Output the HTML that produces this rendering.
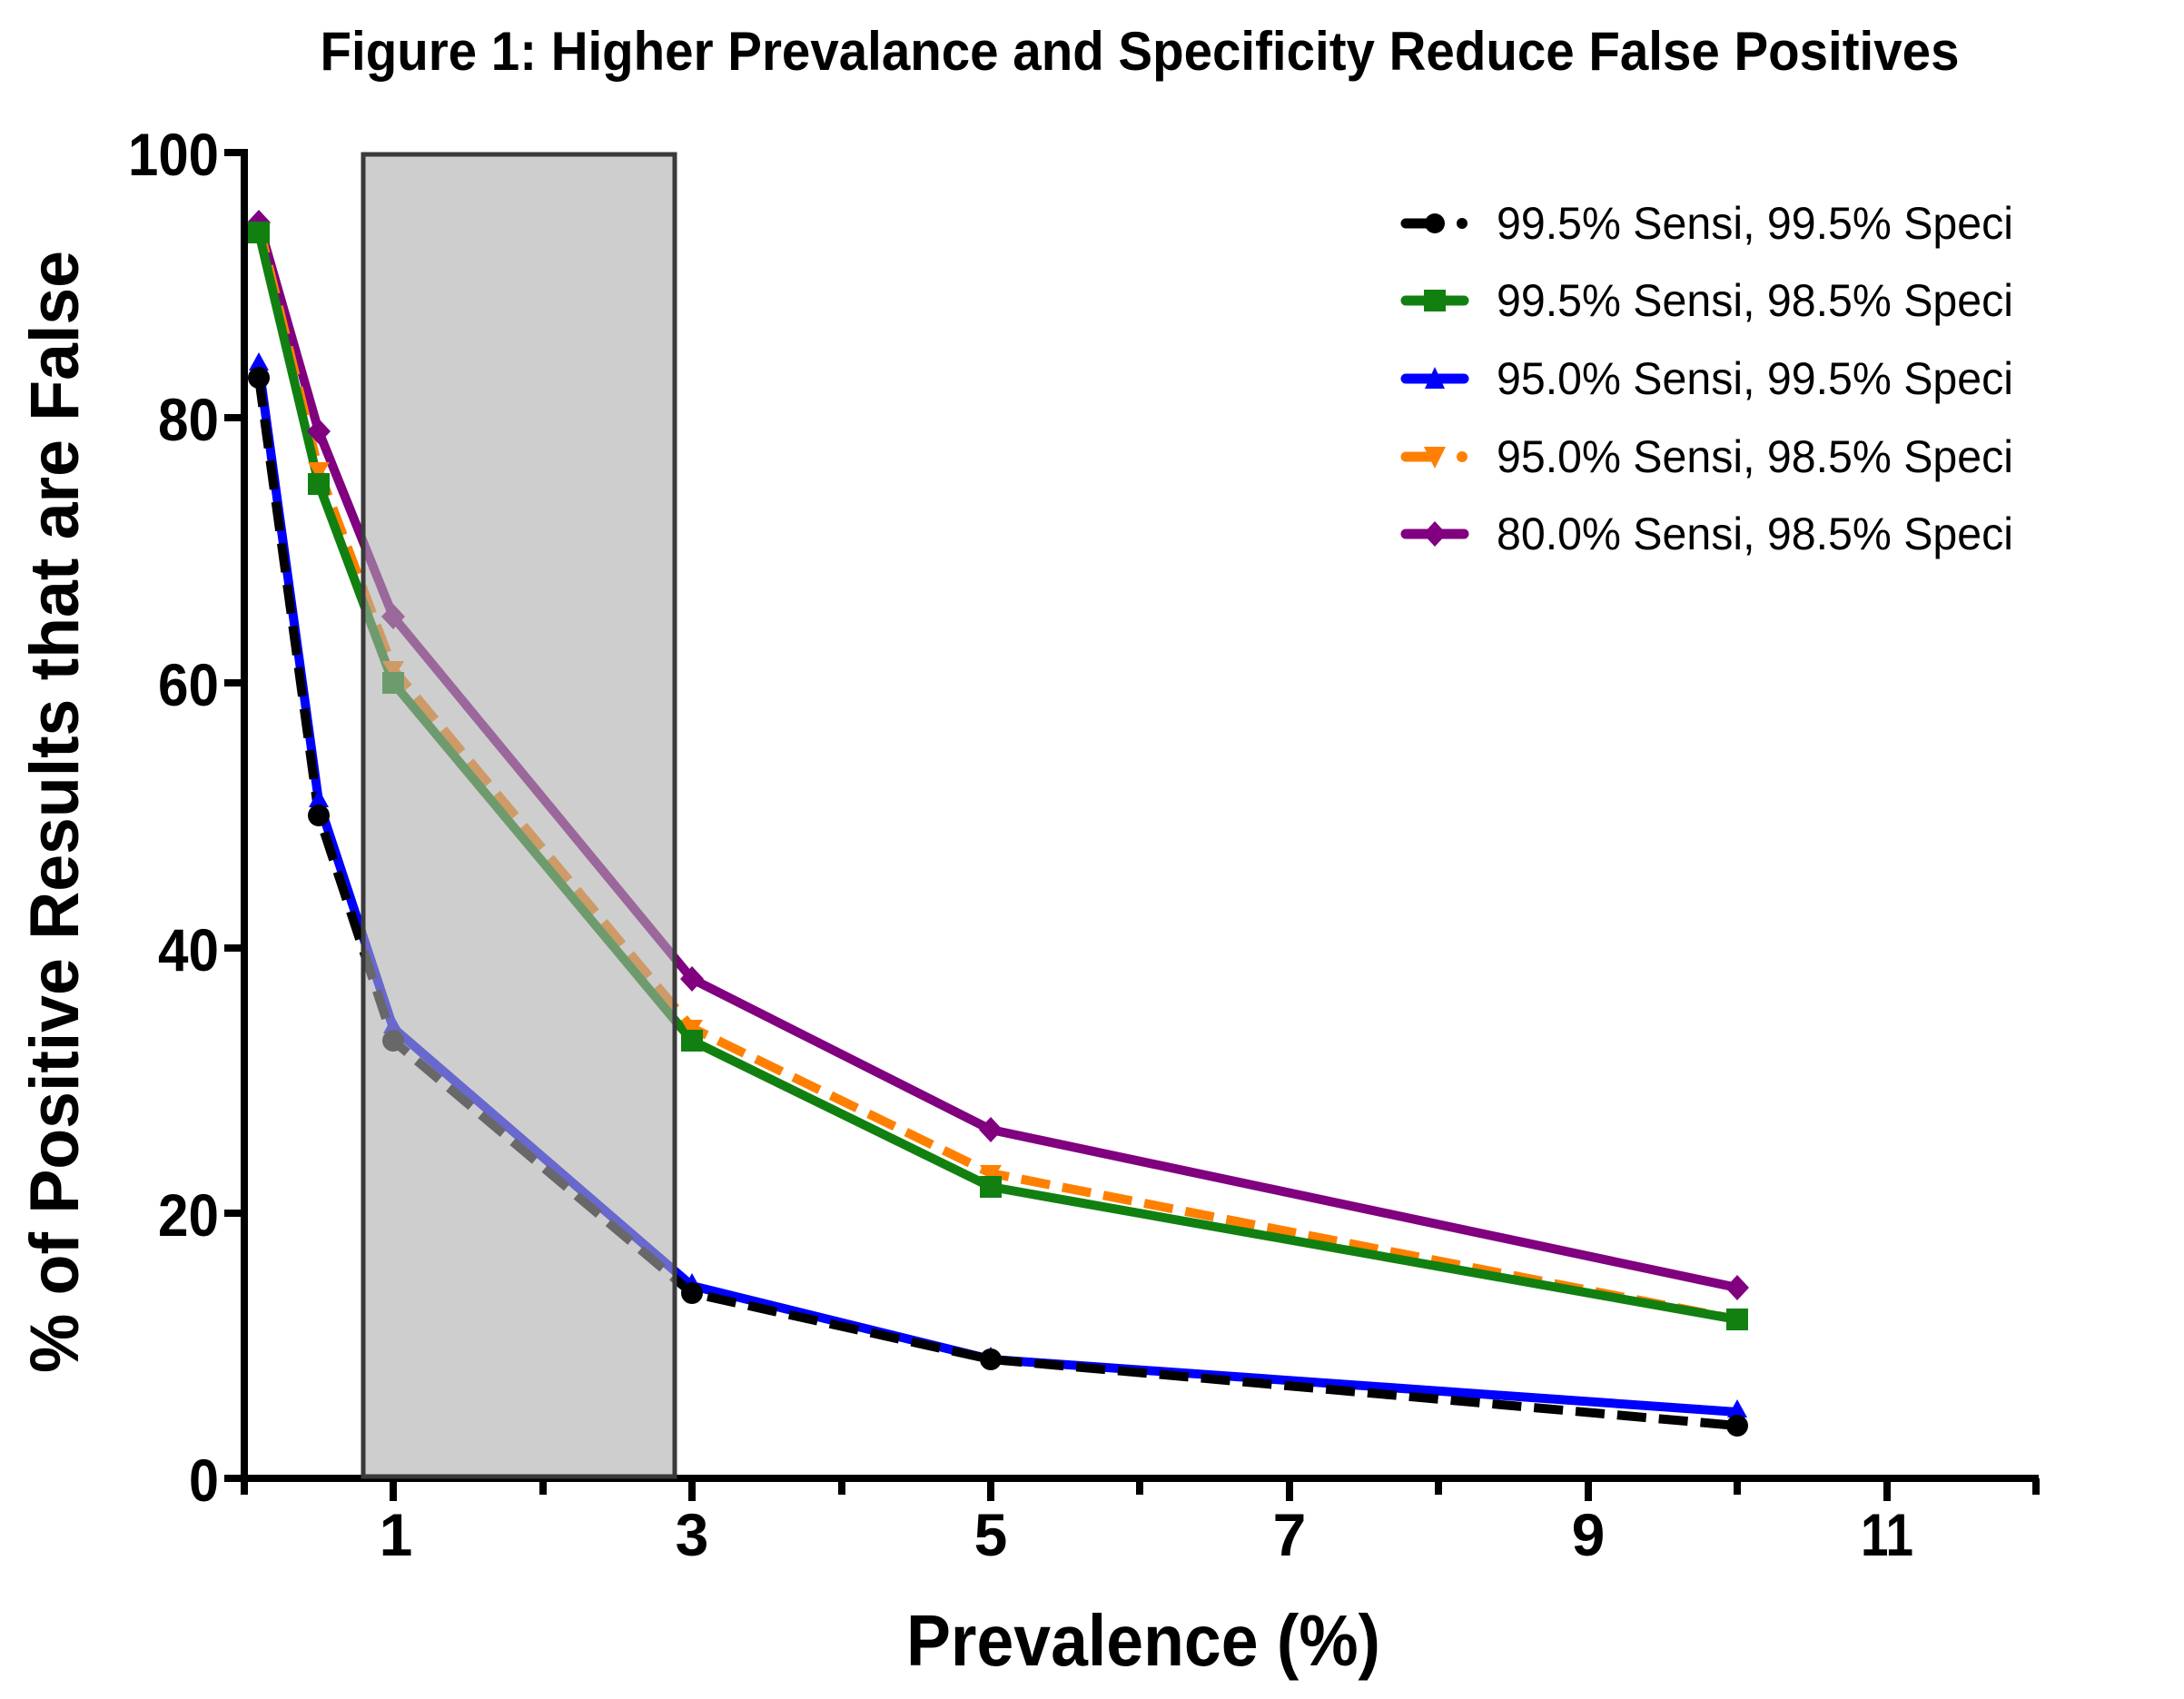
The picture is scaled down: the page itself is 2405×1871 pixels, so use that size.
<!DOCTYPE html>
<html><head><meta charset="utf-8"><style>html,body{margin:0;padding:0;background:#fff}svg{display:block}</style></head>
<body>
<svg width="2405" height="1871" viewBox="0 0 2405 1871" xmlns="http://www.w3.org/2000/svg" font-family="Liberation Sans, sans-serif" font-weight="bold">
<text x="1255" y="77" font-size="60" text-anchor="middle" textLength="1805" lengthAdjust="spacingAndGlyphs">Figure 1: Higher Prevalance and Specificity Reduce False Positives</text>
<!-- axes -->
<g stroke="#000" stroke-width="8" fill="none">
<polyline points="247,168 269,168 269,1628 2245,1628"/>
<line x1="247" y1="460" x2="269" y2="460"/>
<line x1="247" y1="752" x2="269" y2="752"/>
<line x1="247" y1="1044" x2="269" y2="1044"/>
<line x1="247" y1="1336" x2="269" y2="1336"/>
<line x1="247" y1="1628" x2="269" y2="1628"/>
</g>
<g stroke="#000" stroke-width="8">
<line x1="269" y1="1628" x2="269" y2="1646"/>
<line x1="433" y1="1628" x2="433" y2="1653"/>
<line x1="598" y1="1628" x2="598" y2="1646"/>
<line x1="762" y1="1628" x2="762" y2="1653"/>
<line x1="927" y1="1628" x2="927" y2="1646"/>
<line x1="1091" y1="1628" x2="1091" y2="1653"/>
<line x1="1255" y1="1628" x2="1255" y2="1646"/>
<line x1="1420" y1="1628" x2="1420" y2="1653"/>
<line x1="1584" y1="1628" x2="1584" y2="1646"/>
<line x1="1749" y1="1628" x2="1749" y2="1653"/>
<line x1="1913" y1="1628" x2="1913" y2="1646"/>
<line x1="2078" y1="1628" x2="2078" y2="1653"/>
<line x1="2242" y1="1628" x2="2242" y2="1646"/>
</g>
<g font-size="66" text-anchor="end">
<text x="241" y="193" textLength="100" lengthAdjust="spacingAndGlyphs">100</text>
<text x="241" y="485" textLength="67" lengthAdjust="spacingAndGlyphs">80</text>
<text x="241" y="777" textLength="67" lengthAdjust="spacingAndGlyphs">60</text>
<text x="241" y="1069" textLength="67" lengthAdjust="spacingAndGlyphs">40</text>
<text x="241" y="1361" textLength="67" lengthAdjust="spacingAndGlyphs">20</text>
<text x="241" y="1653" textLength="33" lengthAdjust="spacingAndGlyphs">0</text>
</g>
<g font-size="66" text-anchor="middle">
<text x="436" y="1713">1</text>
<text x="762" y="1713">3</text>
<text x="1091" y="1713">5</text>
<text x="1420" y="1713">7</text>
<text x="1749" y="1713">9</text>
<text x="2078" y="1713" textLength="58" lengthAdjust="spacingAndGlyphs">11</text>
</g>
<text x="1259" y="1834" font-size="80" text-anchor="middle" textLength="522" lengthAdjust="spacingAndGlyphs">Prevalence (%)</text>
<text transform="translate(86,894) rotate(-90)" font-size="76" text-anchor="middle" textLength="1236" lengthAdjust="spacingAndGlyphs">% of Positive Results that are False</text>
<!-- series -->
<g fill="none" stroke-width="10" stroke-linejoin="round">
<polyline stroke="#800080" points="285,245 351,475 433,679 762,1078 1091,1244 1913,1418"/>
<polyline stroke="#ff8000" stroke-dasharray="32,14" points="285,248 351,518 433,737 762,1132 1091,1292 1913,1453"/>
<polyline stroke="#118011" points="285,256 351,533 433,752 762,1146 1091,1307 1913,1453"/>
<polyline stroke="#0000ff" points="285,402 351,883 433,1132 762,1416 1091,1497 1913,1555"/>
<polyline stroke="#000" stroke-dasharray="32,14" points="285,416 351,898 433,1146 762,1424 1091,1497 1913,1570"/>
</g>
<g fill="#800080">
<path d="M285,231 l13,14 l-13,14 l-13,-14z"/><path d="M351,461 l13,14 l-13,14 l-13,-14z"/><path d="M433,665 l13,14 l-13,14 l-13,-14z"/><path d="M762,1064 l13,14 l-13,14 l-13,-14z"/><path d="M1091,1230 l13,14 l-13,14 l-13,-14z"/><path d="M1913,1404 l13,14 l-13,14 l-13,-14z"/>
</g>
<g fill="#ff8000">
<path d="M339,509 h24 l-12,20z"/><path d="M421,728 h24 l-12,20z"/><path d="M750,1123 h24 l-12,20z"/><path d="M1079,1283 h24 l-12,20z"/>
</g>
<g fill="#118011">
<rect x="273" y="244" width="24" height="24"/><rect x="339" y="521" width="24" height="24"/><rect x="421" y="740" width="24" height="24"/><rect x="750" y="1134" width="24" height="24"/><rect x="1079" y="1295" width="24" height="24"/><rect x="1901" y="1441" width="24" height="24"/>
</g>
<g fill="#0000ff">
<path d="M285,388 l11,20 h-22z"/><path d="M351,869 l11,20 h-22z"/><path d="M433,1118 l11,20 h-22z"/><path d="M762,1402 l11,20 h-22z"/><path d="M1091,1483 l11,20 h-22z"/><path d="M1913,1541 l11,20 h-22z"/>
</g>
<g fill="#000">
<circle cx="285" cy="416" r="12"/><circle cx="351" cy="898" r="12"/><circle cx="433" cy="1146" r="12"/><circle cx="762" cy="1424" r="12"/><circle cx="1091" cy="1497" r="12"/><circle cx="1913" cy="1570" r="12"/>
</g>
<!-- shaded region -->
<rect x="400" y="170" width="343" height="1456" fill="#adadad" fill-opacity="0.6" stroke="#3a3a3a" stroke-width="5"/>
<!-- legend -->
<g stroke-width="11" fill="none" stroke-linecap="round">
<line x1="1548" y1="246" x2="1580" y2="246" stroke="#000"/>
<line x1="1548" y1="331" x2="1612" y2="331" stroke="#118011"/>
<line x1="1548" y1="417" x2="1612" y2="417" stroke="#0000ff"/>
<line x1="1548" y1="503" x2="1580" y2="503" stroke="#ff8000"/>
<line x1="1548" y1="588" x2="1612" y2="588" stroke="#800080"/>
</g>
<circle cx="1580" cy="246" r="11" fill="#000"/><circle cx="1610" cy="246" r="6" fill="#000"/>
<rect x="1568" y="319" width="24" height="24" fill="#118011"/>
<path d="M1580,404 l11,24 h-22z" fill="#0000ff"/>
<path d="M1568,492 h24 l-12,24z" fill="#ff8000"/><circle cx="1610" cy="503" r="6" fill="#ff8000"/>
<path d="M1580,574 l13,14 l-13,14 l-13,-14z" fill="#800080"/>
<g font-size="50" font-weight="normal">
<text x="1648" y="263" textLength="569" lengthAdjust="spacingAndGlyphs">99.5% Sensi, 99.5% Speci</text>
<text x="1648" y="348" textLength="569" lengthAdjust="spacingAndGlyphs">99.5% Sensi, 98.5% Speci</text>
<text x="1648" y="434" textLength="569" lengthAdjust="spacingAndGlyphs">95.0% Sensi, 99.5% Speci</text>
<text x="1648" y="520" textLength="569" lengthAdjust="spacingAndGlyphs">95.0% Sensi, 98.5% Speci</text>
<text x="1648" y="605" textLength="569" lengthAdjust="spacingAndGlyphs">80.0% Sensi, 98.5% Speci</text>
</g>
</svg>
</body></html>
